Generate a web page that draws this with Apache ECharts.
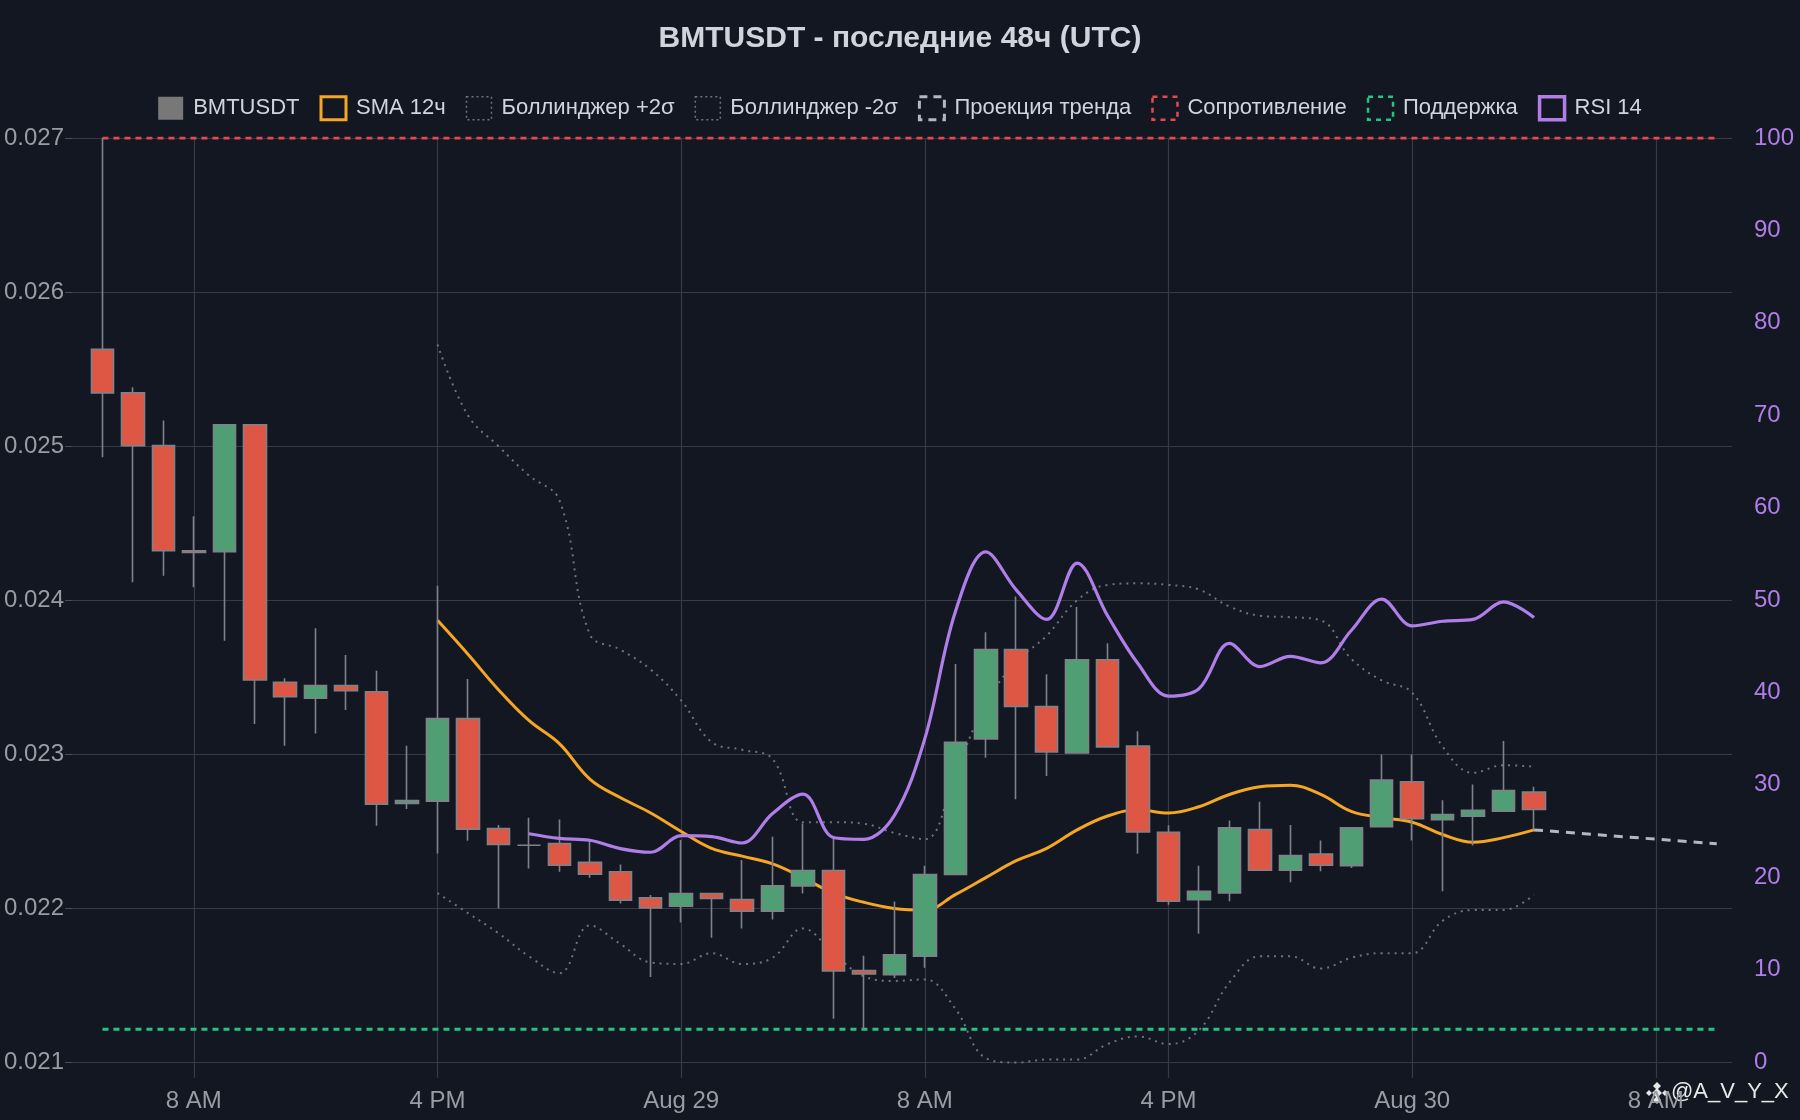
<!DOCTYPE html>
<html>
<head>
<meta charset="utf-8">
<title>BMTUSDT 48h</title>
<script src="https://cdn.jsdelivr.net/npm/echarts@6/dist/echarts.min.js"></script>
<style>
  html, body { margin: 0; padding: 0; background: #131722; }
  #chart { width: 1800px; height: 1120px; }
</style>
</head>
<body>
<div id="chart"></div>
<script>
// ----------------------
// Data (hourly candles, UTC)
// ----------------------
const times = [
  'Aug 28 05:00', 'Aug 28 06:00', 'Aug 28 07:00', 'Aug 28 08:00', 'Aug 28 09:00', 'Aug 28 10:00',
  'Aug 28 11:00', 'Aug 28 12:00', 'Aug 28 13:00', 'Aug 28 14:00', 'Aug 28 15:00', 'Aug 28 16:00',
  'Aug 28 17:00', 'Aug 28 18:00', 'Aug 28 19:00', 'Aug 28 20:00', 'Aug 28 21:00', 'Aug 28 22:00',
  'Aug 28 23:00', 'Aug 29 00:00', 'Aug 29 01:00', 'Aug 29 02:00', 'Aug 29 03:00', 'Aug 29 04:00',
  'Aug 29 05:00', 'Aug 29 06:00', 'Aug 29 07:00', 'Aug 29 08:00', 'Aug 29 09:00', 'Aug 29 10:00',
  'Aug 29 11:00', 'Aug 29 12:00', 'Aug 29 13:00', 'Aug 29 14:00', 'Aug 29 15:00', 'Aug 29 16:00',
  'Aug 29 17:00', 'Aug 29 18:00', 'Aug 29 19:00', 'Aug 29 20:00', 'Aug 29 21:00', 'Aug 29 22:00',
  'Aug 29 23:00', 'Aug 30 00:00', 'Aug 30 01:00', 'Aug 30 02:00', 'Aug 30 03:00', 'Aug 30 04:00'
];

const opens = [
  0.025628, 0.025346, 0.025004, 0.024322, 0.024316, 0.025139, 0.023468, 0.023364, 0.023446, 0.023407,
  0.022682, 0.022697, 0.023232, 0.022519, 0.022410, 0.022422, 0.022299, 0.022238, 0.022069, 0.022015,
  0.022097, 0.022058, 0.021983, 0.022147, 0.022247, 0.021598, 0.021571, 0.021690, 0.022221, 0.023101,
  0.023681, 0.023311, 0.023009, 0.023614, 0.023054, 0.022495, 0.022057, 0.022101, 0.022512, 0.022248,
  0.022354, 0.022278, 0.022530, 0.022822, 0.022577, 0.022599, 0.022632, 0.022755
];
const closes = [
  0.025346, 0.025004, 0.024322, 0.024310, 0.025139, 0.023483, 0.023374, 0.023446, 0.023413, 0.022677,
  0.022700, 0.023232, 0.022515, 0.022416, 0.022410, 0.022281, 0.022223, 0.022054, 0.022004, 0.022097,
  0.022065, 0.021983, 0.022147, 0.022247, 0.021594, 0.021576, 0.021699, 0.022221, 0.023078, 0.023681,
  0.023311, 0.023016, 0.023614, 0.023049, 0.022496, 0.022047, 0.022112, 0.022523, 0.022248, 0.022343,
  0.022281, 0.022523, 0.022833, 0.022582, 0.022610, 0.022638, 0.022766, 0.022642
];
const lows = [
  0.024929, 0.024117, 0.024160, 0.024084, 0.023738, 0.023197, 0.023056, 0.023136, 0.023288, 0.022537,
  0.022645, 0.022357, 0.022439, 0.022000, 0.022260, 0.022238, 0.022199, 0.022032, 0.021556, 0.021909,
  0.021810, 0.021870, 0.021929, 0.022097, 0.021284, 0.021217, 0.021549, 0.021616, 0.022221, 0.022978,
  0.022709, 0.022859, 0.023009, 0.023049, 0.022355, 0.022025, 0.021836, 0.022047, 0.022248, 0.022170,
  0.022242, 0.022263, 0.022530, 0.022441, 0.022112, 0.022408, 0.022632, 0.022512
];
const highs = [
  0.027000, 0.025383, 0.025167, 0.024545, 0.025139, 0.025139, 0.023494, 0.023818, 0.023645, 0.023543,
  0.023056, 0.024095, 0.023489, 0.022541, 0.022589, 0.022578, 0.022444, 0.022286, 0.022087, 0.022444,
  0.022097, 0.022314, 0.022465, 0.022552, 0.022460, 0.021694, 0.022046, 0.022277, 0.023587, 0.023793,
  0.024024, 0.023520, 0.023956, 0.023721, 0.023150, 0.022540, 0.022278, 0.022571, 0.022692, 0.022541,
  0.022441, 0.022523, 0.023000, 0.023000, 0.022703, 0.022805, 0.023087, 0.022790
];

// SMA 12 and Bollinger bands start at the 12th candle
const SMA_START = 11;
const sma12 = [
  0.02387, 0.02365, 0.02342, 0.02322, 0.02307, 0.02284, 0.02272, 0.02262, 0.02250, 0.02239,
  0.02234, 0.02229, 0.02220, 0.02210, 0.02204, 0.02200, 0.02199, 0.02209, 0.02220, 0.02231,
  0.02239, 0.02251, 0.02260, 0.02264, 0.02262, 0.02266, 0.02274, 0.02279, 0.02280, 0.02274,
  0.02263, 0.02259, 0.02256, 0.02248, 0.02243, 0.02246, 0.02251
];
const bbUpper = [
  0.02566, 0.02520, 0.02500, 0.02481, 0.02465, 0.02378, 0.02368, 0.02355, 0.02335, 0.02308,
  0.02303, 0.02297, 0.02256, 0.02256, 0.02255, 0.02249, 0.02245, 0.02288, 0.02333, 0.02360,
  0.02377, 0.02400, 0.02410, 0.02411, 0.02410, 0.02407, 0.02396, 0.02390, 0.02389, 0.02387,
  0.02362, 0.02348, 0.02340, 0.02305, 0.02288, 0.02293, 0.02292
];
const bbLower = [
  0.02210, 0.02197, 0.02184, 0.02169, 0.02158, 0.02189, 0.02177, 0.02165, 0.02164, 0.02171,
  0.02164, 0.02168, 0.02187, 0.02171, 0.02156, 0.02153, 0.02154, 0.02135, 0.02103, 0.02100,
  0.02102, 0.02102, 0.02112, 0.02117, 0.02112, 0.02121, 0.02152, 0.02169, 0.02169, 0.02161,
  0.02168, 0.02171, 0.02171, 0.02192, 0.02199, 0.02199, 0.02209
];

// RSI 14 starts at the 15th candle
const RSI_START = 14;
const rsi14 = [
  24.7, 24.2, 24.0, 23.1, 22.7, 24.5, 24.4, 23.7, 26.9, 29.0,
  24.3, 24.1, 26.7, 35.0, 48.7, 55.2, 51.1, 47.9, 54.0, 48.3,
  43.1, 39.6, 40.4, 45.3, 42.8, 43.9, 43.2, 46.7, 50.1, 47.2,
  47.7, 47.9, 49.8, 48.1
];

// trend projection
const trendTimes = ['Aug 30 04:00', 'Aug 30 10:00'];
const trendValues = [0.02251, 0.02242];

// axis ticks
const priceTicks = [0.021, 0.022, 0.023, 0.024, 0.025, 0.026, 0.027];
const rsiTicks = [0, 10, 20, 30, 40, 50, 60, 70, 80, 90, 100];
const timeTickTimes = ['Aug 28 08:00', 'Aug 28 16:00', 'Aug 29 00:00', 'Aug 29 08:00', 'Aug 29 16:00', 'Aug 30 00:00', 'Aug 30 08:00'];
const timeTickLabels = ['8 AM', '4 PM', 'Aug 29', '8 AM', '4 PM', 'Aug 30', '8 AM'];

// ----------------------
// Helpers
// ----------------------
// hours since Aug 28 00:00 UTC
function toHour(t) {
  const parts = t.split(' ');
  const hm = parts[2].split(':').map(Number);
  return (Number(parts[1]) - 28) * 24 + hm[0] + hm[1] / 60;
}

const FONT = '"Liberation Sans", Arial, sans-serif';
const COLOR_BG = '#131722';
const COLOR_GRID = '#363a45';
const COLOR_TEXT = '#d1d4dc';
const COLOR_AXIS = '#9a9ca3';
const COLOR_UP = '#509e73';
const COLOR_DOWN = '#dd5744';
const COLOR_WICK = '#80828a';
const COLOR_SMA = '#f5a623';
const COLOR_BB = '#6f737c';
const COLOR_TREND = '#b4b7bd';
const COLOR_RES = '#e5484d';
const COLOR_SUP = '#26c484';
const COLOR_RSI = '#b07ee8';

const hours = times.map(toHour);
const candleData = hours.map((h, i) => [h, opens[i], closes[i], lows[i], highs[i]]);
const smaData = sma12.map((v, i) => [hours[SMA_START + i], v]);
const upperData = bbUpper.map((v, i) => [hours[SMA_START + i], v]);
const lowerData = bbLower.map((v, i) => [hours[SMA_START + i], v]);
const rsiData = rsi14.map((v, i) => [hours[RSI_START + i], v]);
const trendData = trendTimes.map((t, i) => [toHour(t), trendValues[i]]);

const resistance = Math.max(...highs);
const support = Math.min(...lows);
const levelSpan = [hours[0], toHour(trendTimes[1])];

const timeTicks = timeTickTimes.map(toHour);

// ----------------------
// Chart
// ----------------------
function initChart() {
  const chart = echarts.init(document.getElementById('chart'));
  const lineBase = { type: 'line', symbol: 'none', z: 2, silent: true };

  chart.setOption({
    backgroundColor: COLOR_BG,
    animation: false,
    textStyle: { fontFamily: FONT },
    title: {
      text: 'BMTUSDT - последние 48ч (UTC)',
      left: 'center',
      top: 19,
      textStyle: { color: COLOR_TEXT, fontSize: 30, fontWeight: 'bold', fontFamily: FONT }
    },
    legend: {
      top: 90,
      left: 'center',
      itemWidth: 25,
      itemHeight: 23,
      itemGap: 20,
      textStyle: { color: COLOR_TEXT, fontSize: 22, fontFamily: FONT, padding: [0, 0, 0, 5] },
      data: [
        { name: 'BMTUSDT', icon: 'rect', itemStyle: { color: '#787878', borderWidth: 0 } },
        { name: 'SMA 12ч', icon: 'rect', itemStyle: { color: 'transparent', borderColor: COLOR_SMA, borderWidth: 3 } },
        { name: 'Боллинджер +2σ', icon: 'rect', itemStyle: { color: 'transparent', borderColor: COLOR_BB, borderWidth: 1.5, borderType: [2, 3] } },
        { name: 'Боллинджер -2σ', icon: 'rect', itemStyle: { color: 'transparent', borderColor: COLOR_BB, borderWidth: 1.5, borderType: [2, 3] } },
        { name: 'Проекция тренда', icon: 'rect', itemStyle: { color: 'transparent', borderColor: COLOR_TREND, borderWidth: 3, borderType: [8, 6] } },
        { name: 'Сопротивление', icon: 'rect', itemStyle: { color: 'transparent', borderColor: COLOR_RES, borderWidth: 2.5, borderType: [5, 5] } },
        { name: 'Поддержка', icon: 'rect', itemStyle: { color: 'transparent', borderColor: COLOR_SUP, borderWidth: 2.5, borderType: [5, 5] } },
        { name: 'RSI 14', icon: 'rect', itemStyle: { color: 'transparent', borderColor: COLOR_RSI, borderWidth: 3.5 } }
      ]
    },
    grid: { left: 72, right: 68, top: 138, bottom: 42, containLabel: false },
    xAxis: {
      type: 'value',
      min: 4,
      max: 58.5,
      axisLine: { show: false },
      axisTick: { show: false, customValues: timeTicks },
      axisLabel: {
        customValues: timeTicks,
        color: COLOR_AXIS,
        fontSize: 24,
        margin: 11,
        fontFamily: FONT,
        formatter: v => {
          const i = timeTicks.findIndex(t => Math.abs(t - v) < 1e-6);
          return i >= 0 ? timeTickLabels[i] : '';
        }
      },
      splitLine: { show: true, lineStyle: { color: COLOR_GRID, width: 1.2 } }
    },
    yAxis: [
      {
        type: 'value',
        min: 0.0209,
        max: 0.027,
        position: 'left',
        axisLine: { show: false },
        axisTick: { show: true, length: 7, customValues: priceTicks, lineStyle: { color: '#4a4e58' } },
        axisLabel: {
          customValues: priceTicks,
          color: COLOR_AXIS,
          fontSize: 24,
          margin: 8,
          fontFamily: FONT,
          formatter: v => v.toFixed(3)
        },
        splitLine: { show: true, lineStyle: { color: COLOR_GRID, width: 1.2 } }
      },
      {
        type: 'value',
        min: -1.73,
        max: 100,
        position: 'right',
        axisLine: { show: false },
        axisTick: { show: false, customValues: rsiTicks },
        axisLabel: {
          customValues: rsiTicks,
          color: COLOR_RSI,
          fontSize: 24,
          margin: 22,
          fontFamily: FONT
        },
        splitLine: { show: false }
      }
    ],
    series: [
      {
        name: 'BMTUSDT',
        type: 'candlestick',
        data: candleData,
        encode: { x: 0, y: [1, 2, 3, 4] },
        barWidth: 23,
        z: 3,
        silent: true,
        itemStyle: {
          color: COLOR_UP,
          color0: COLOR_DOWN,
          borderColor: COLOR_WICK,
          borderColor0: COLOR_WICK,
          borderWidth: 1.6
        }
      },
      Object.assign({}, lineBase, {
        name: 'Боллинджер +2σ',
        data: upperData,
        smooth: 0.4,
        lineStyle: { color: COLOR_BB, width: 2, type: [2, 5] }
      }),
      Object.assign({}, lineBase, {
        name: 'Боллинджер -2σ',
        data: lowerData,
        smooth: 0.4,
        lineStyle: { color: COLOR_BB, width: 2, type: [2, 5] }
      }),
      Object.assign({}, lineBase, {
        name: 'SMA 12ч',
        data: smaData,
        smooth: 0.4,
        lineStyle: { color: COLOR_SMA, width: 3 }
      }),
      Object.assign({}, lineBase, {
        name: 'Проекция тренда',
        data: trendData,
        lineStyle: { color: COLOR_TREND, width: 3, type: [9, 7] }
      }),
      Object.assign({}, lineBase, {
        name: 'Сопротивление',
        data: levelSpan.map(h => [h, resistance]),
        lineStyle: { color: COLOR_RES, width: 3, type: [6, 5] }
      }),
      Object.assign({}, lineBase, {
        name: 'Поддержка',
        data: levelSpan.map(h => [h, support]),
        lineStyle: { color: COLOR_SUP, width: 3, type: [6, 5] }
      }),
      Object.assign({}, lineBase, {
        name: 'RSI 14',
        yAxisIndex: 1,
        data: rsiData,
        smooth: 0.35,
        z: 4,
        lineStyle: { color: COLOR_RSI, width: 3.2 }
      })
    ],
    graphic: [
      {
        type: 'group',
        left: 1646,
        top: 1082,
        silent: true,
        children: [
          { type: 'polygon', shape: { points: [[11, 6], [16, 11], [11, 16], [6, 11]] }, style: { fill: '#e6e6e6' } },
          { type: 'polygon', shape: { points: [[11, 0], [15, 4], [11, 8], [7, 4]] }, style: { fill: '#e6e6e6' } },
          { type: 'polygon', shape: { points: [[11, 14], [15, 18], [11, 22], [7, 18]] }, style: { fill: '#e6e6e6' } },
          { type: 'polygon', shape: { points: [[0, 11], [3, 8], [6, 11], [3, 14]] }, style: { fill: '#e6e6e6' } },
          { type: 'polygon', shape: { points: [[16, 11], [19, 8], [22, 11], [19, 14]] }, style: { fill: '#e6e6e6' } }
        ]
      },
      {
        type: 'text',
        left: 1671,
        top: 1081,
        silent: true,
        style: { text: '@A_V_Y_X', fill: '#e8e8e8', fontSize: 22, fontFamily: FONT }
      }
    ]
  });
  return chart;
}

const chart = initChart();
window.addEventListener('resize', () => chart.resize());
</script>
</body>
</html>
